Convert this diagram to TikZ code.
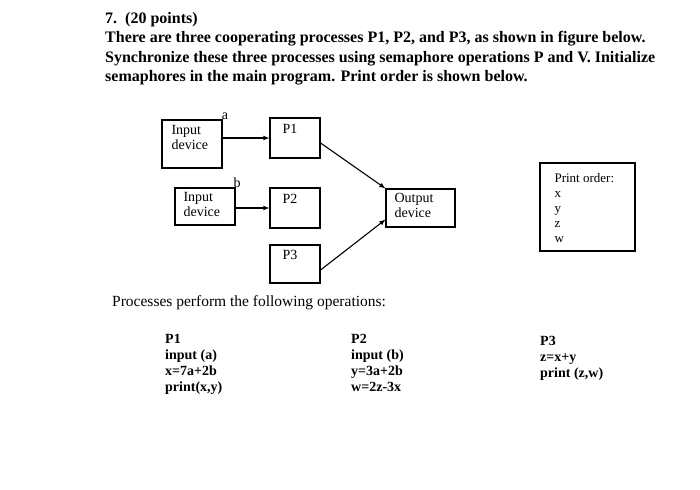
\documentclass[tikz,border=0pt]{standalone}
\usepackage{fontspec}
\setmainfont{Liberation Serif}
\begin{document}
\begin{tikzpicture}[x=1pt,y=-1pt,
  bx/.style={draw,line width=1.1pt,inner sep=0pt},
  lab/.style={font=\fontsize{14}{15}\selectfont,align=left},
  ar/.style={->,>=latex,line width=1.1pt},
  bt/.style={font=\bfseries\fontsize{14}{16}\selectfont,align=left,anchor=north west,inner sep=0pt},
  hd/.style={font=\bfseries\fontsize{16}{19.5}\selectfont,align=left,anchor=north west,inner sep=0pt}]
\useasboundingbox[fill=white] (0,0) rectangle (700,489);
\node[hd] (t) at (105,12) {7.\ \ (20 points)\\There are three cooperating processes P1, P2, and P3, as shown in figure below.\\Synchronize these three processes using semaphore operations P and V. Initialize\\semaphores in the main program. Print order is shown below.};
\node[bx,minimum width=60pt,minimum height=48pt] (ia) at (192,144) {};
\node[lab,anchor=north west] at (168,122) {Input\\device};
\node[bx,minimum width=50pt,minimum height=40pt] (p1) at (295,138) {};
\node[lab,anchor=north] at (290,121) {P1};
\node[bx,minimum width=60pt,minimum height=37pt] (ib) at (205,206.5) {};
\node[lab,anchor=north west] at (180,189) {Input\\device};
\node[bx,minimum width=50pt,minimum height=40pt] (p2) at (295,208) {};
\node[lab,anchor=north] at (290,191) {P2};
\node[bx,minimum width=69pt,minimum height=38pt] (out) at (420.5,208) {};
\node[lab,anchor=north west] at (391,190) {Output\\device};
\node[bx,minimum width=95pt,minimum height=88pt] (po) at (587.5,207) {};
\node[bx,minimum width=50pt,minimum height=38pt] (p3) at (295,264) {};
\node[lab,anchor=north] at (290,247) {P3};
\node[lab,anchor=north west,font=\fontsize{13}{15}\selectfont] at (551,170) {Print order:\\x\\y\\z\\w};
\node[lab] (a) at (225,116) {a};
\node[lab] (b) at (237,183) {b};
\draw[ar] (ia.east |- 0,138) -- (p1.west |- 0,138);
\draw[ar] (ib.east |- 0,208) -- (p2.west |- 0,208);
\draw[ar] (p1.east |- 0,143) -- (out.north west);
\draw[ar] (p3.east |- 0,270) -- ([yshift=8pt]out.south west);
\node[font=\fontsize{15.5}{17}\selectfont,anchor=west,inner sep=0pt] (pr) at (112,303) {Processes perform the following operations:};
\node[bt] (c1) at (165,334) {P1\\input (a)\\x=7a+2b\\print(x,y)};
\node[bt] (c2) at (351,334) {P2\\input (b)\\y=3a+2b\\w=2z-3x};
\node[bt] (c3) at (540,336) {P3\\z=x+y\\print (z,w)};
\end{tikzpicture}
\end{document}
